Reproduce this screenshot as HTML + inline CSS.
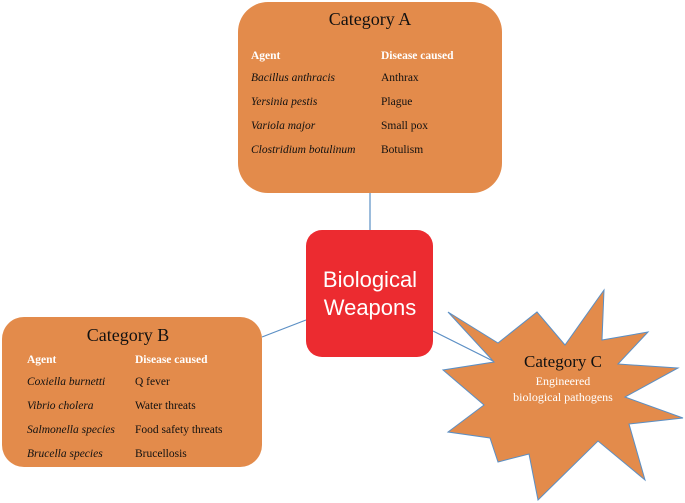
<!DOCTYPE html>
<html><head><meta charset="utf-8"><style>
html,body{margin:0;padding:0;background:#fff;}
svg{display:block;}
.t{font-family:"Liberation Serif",serif;}
.s{font-family:"Liberation Sans",sans-serif;}
</style></head><body>
<svg width="685" height="503" viewBox="0 0 685 503" xmlns="http://www.w3.org/2000/svg">
<g stroke="#5b8fc4" stroke-width="1.2">
<line x1="370" y1="193" x2="370" y2="230"/>
<line x1="262" y1="337" x2="306" y2="320"/>
<line x1="433" y1="331" x2="495" y2="362"/>
</g>
<rect x="238" y="2" width="264" height="191" rx="30" fill="#e38b4b"/>
<rect x="2" y="317" width="260" height="150" rx="22" fill="#e38b4b"/>
<rect x="306" y="230" width="127" height="127" rx="16" fill="#ec2b30"/>
<polygon fill="#e38b4b" stroke="#5b8fc4" stroke-width="1"
points="448,312 498,343 537,312 565,345 604,290 602,340 648,332 618,364 678,368 625,397 683,418 629,424 645,480 598,441 538,500 529,454 498,462 490,438 448,432 484,405 443,370 494,362"/>
<g class="t">
<text x="370" y="25" font-size="18" text-anchor="middle" fill="#111">Category A</text>
<text x="251" y="59" font-size="11.5" font-weight="bold" fill="#fff">Agent</text>
<text x="381" y="59" font-size="11.5" font-weight="bold" fill="#fff">Disease caused</text>
<g font-size="11.5" fill="#111">
<text x="251" y="81" font-style="italic">Bacillus anthracis</text><text x="381" y="81">Anthrax</text>
<text x="251" y="105" font-style="italic">Yersinia pestis</text><text x="381" y="105">Plague</text>
<text x="251" y="129" font-style="italic">Variola major</text><text x="381" y="129">Small pox</text>
<text x="251" y="153" font-style="italic">Clostridium botulinum</text><text x="381" y="153">Botulism</text>
</g>
<text x="128" y="341" font-size="18" text-anchor="middle" fill="#111">Category B</text>
<text x="27" y="363" font-size="11.5" font-weight="bold" fill="#fff">Agent</text>
<text x="135" y="363" font-size="11.5" font-weight="bold" fill="#fff">Disease caused</text>
<g font-size="11.5" fill="#111">
<text x="27" y="385" font-style="italic">Coxiella burnetti</text><text x="135" y="385">Q fever</text>
<text x="27" y="409" font-style="italic">Vibrio cholera</text><text x="135" y="409">Water threats</text>
<text x="27" y="433" font-style="italic">Salmonella species</text><text x="135" y="433">Food safety threats</text>
<text x="27" y="457" font-style="italic">Brucella species</text><text x="135" y="457">Brucellosis</text>
</g>
<text x="563" y="367" font-size="17" text-anchor="middle" fill="#111">Category C</text>
<text x="563" y="385" font-size="12" text-anchor="middle" fill="#fff">Engineered</text>
<text x="563" y="401" font-size="12" text-anchor="middle" fill="#fff">biological pathogens</text>
</g>
<g class="s" fill="#fff" font-size="22" text-anchor="middle">
<text x="370" y="287">Biological</text>
<text x="370" y="315">Weapons</text>
</g>
</svg>
</body></html>
